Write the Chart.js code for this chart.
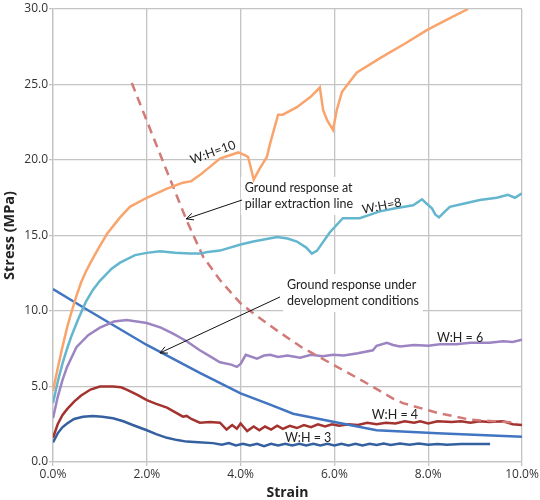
<!DOCTYPE html>
<html>
<head>
<meta charset="utf-8">
<script src="https://cdn.jsdelivr.net/npm/chart.js@4.4.1/dist/chart.umd.min.js"></script>
<style>
  html, body { margin: 0; padding: 0; background: #fff; }
</style>
</head>
<body>
<canvas id="stressChart" width="540" height="500"></canvas>
<script>
// data (strain in %, stress in MPa)

let wh10Strain = [0, 0.1, 0.2, 0.3, 0.4, 0.5, 0.6, 0.7, 0.8, 0.96, 1.15, 1.43, 1.64, 2.0, 2.43, 2.77, 2.95, 3.13, 3.56, 3.95, 4.1, 4.16, 4.28, 4.4, 4.56, 4.63, 4.8, 4.9, 5.2, 5.5, 5.69, 5.76, 5.85, 5.97, 6.05, 6.16, 6.33, 6.48, 7.0, 7.5, 7.97, 8.4, 8.85];
let wh10Stress = [4.7, 6.2, 7.6, 8.9, 10.0, 11.0, 11.9, 12.6, 13.2, 14.1, 15.1, 16.2, 16.9, 17.5, 18.1, 18.5, 18.6, 19.0, 20.1, 20.5, 20.3, 20.2, 18.7, 19.4, 20.2, 21.1, 23.0, 23.0, 23.5, 24.2, 24.8, 23.3, 22.6, 22.0, 23.3, 24.5, 25.2, 25.8, 26.8, 27.7, 28.6, 29.3, 30.0];

let wh8Strain = [0, 0.1, 0.2, 0.3, 0.4, 0.53, 0.7, 0.85, 1.0, 1.25, 1.43, 1.75, 2.0, 2.28, 2.6, 2.92, 3.13, 3.3, 3.56, 4.0, 4.27, 4.78, 5.0, 5.2, 5.4, 5.52, 5.63, 5.9, 6.18, 6.54, 6.97, 7.3, 7.68, 7.87, 7.97, 8.08, 8.15, 8.23, 8.36, 8.46, 8.75, 9.1, 9.46, 9.7, 9.85, 10.0];
let wh8Stress = [3.9, 5.3, 6.5, 7.5, 8.4, 9.4, 10.6, 11.4, 12.0, 12.8, 13.2, 13.7, 13.85, 13.95, 13.85, 13.8, 13.8, 13.9, 14.0, 14.4, 14.6, 14.9, 14.8, 14.6, 14.2, 13.8, 14.0, 15.2, 16.15, 16.15, 16.6, 16.8, 17.0, 17.4, 17.1, 16.8, 16.4, 16.2, 16.6, 16.9, 17.1, 17.35, 17.5, 17.7, 17.5, 17.8];

let wh6Strain = [0, 0.1, 0.2, 0.3, 0.5, 0.75, 1.0, 1.3, 1.57, 2.0, 2.3, 2.56, 2.85, 3.13, 3.35, 3.56, 3.8, 3.92, 4.0, 4.11, 4.2, 4.35, 4.5, 4.63, 4.8, 5.0, 5.27, 5.5, 5.75, 5.97, 6.2, 6.5, 6.82, 6.9, 7.12, 7.25, 7.4, 7.7, 8.0, 8.25, 8.6, 8.9, 9.3, 9.6, 9.8, 10.0];
let wh6Stress = [2.9, 4.3, 5.4, 6.3, 7.6, 8.4, 8.9, 9.3, 9.4, 9.2, 8.9, 8.5, 8.0, 7.4, 7.0, 6.6, 6.45, 6.3, 6.5, 7.1, 7.0, 6.85, 7.05, 7.1, 6.95, 7.05, 6.9, 7.1, 7.0, 7.1, 7.05, 7.2, 7.4, 7.7, 7.9, 7.75, 7.65, 7.75, 7.7, 7.8, 7.8, 7.9, 7.9, 8.0, 7.95, 8.1];

let wh4Strain = [0, 0.1, 0.2, 0.3, 0.45, 0.6, 0.8, 1.0, 1.28, 1.45, 1.57, 1.8, 2.0, 2.2, 2.43, 2.6, 2.77, 2.85, 2.95, 3.13, 3.35, 3.56, 3.7, 3.82, 3.92, 4.0, 4.14, 4.28, 4.4, 4.52, 4.65, 4.78, 4.9, 5.05, 5.2, 5.35, 5.5, 5.65, 5.8, 5.95, 6.1, 6.3, 6.5, 6.7, 6.9, 7.1, 7.3, 7.5, 7.7, 7.83, 8.0, 8.2, 8.5, 8.7, 8.9, 9.1, 9.3, 9.6, 9.8, 10.0];
let wh4Stress = [1.6, 2.5, 3.1, 3.5, 4.0, 4.4, 4.8, 5.0, 5.0, 4.95, 4.8, 4.45, 4.1, 3.85, 3.6, 3.3, 3.0, 3.05, 2.85, 2.6, 2.65, 2.6, 2.15, 2.45, 2.2, 2.55, 2.05, 2.35, 2.1, 2.35, 2.15, 2.4, 2.2, 2.4, 2.25, 2.45, 2.3, 2.5, 2.35, 2.5, 2.4, 2.5, 2.45, 2.6, 2.5, 2.6, 2.55, 2.7, 2.6, 2.7, 2.55, 2.7, 2.65, 2.7, 2.6, 2.7, 2.65, 2.7, 2.5, 2.45];

let wh3Strain = [0, 0.1, 0.2, 0.3, 0.45, 0.64, 0.85, 1.05, 1.28, 1.5, 1.7, 2.0, 2.2, 2.43, 2.65, 2.85, 3.1, 3.41, 3.6, 3.75, 3.9, 4.05, 4.2, 4.35, 4.5, 4.65, 4.8, 4.95, 5.1, 5.25, 5.4, 5.55, 5.7, 5.85, 6.0, 6.15, 6.3, 6.45, 6.6, 6.75, 6.9, 7.05, 7.2, 7.4, 7.6, 7.8, 8.0, 8.2, 8.4, 8.7, 9.0, 9.32];
let wh3Stress = [1.3, 1.9, 2.3, 2.55, 2.85, 3.0, 3.05, 3.0, 2.9, 2.7, 2.45, 2.1, 1.85, 1.6, 1.45, 1.35, 1.3, 1.25, 1.15, 1.25, 1.1, 1.2, 1.1, 1.2, 1.05, 1.2, 1.1, 1.2, 1.1, 1.2, 1.1, 1.2, 1.1, 1.2, 1.1, 1.2, 1.1, 1.2, 1.1, 1.2, 1.12, 1.22, 1.12, 1.22, 1.15, 1.22, 1.15, 1.2, 1.15, 1.2, 1.2, 1.2];

let devStrain = [0, 0.72, 2.0, 3.13, 4.0, 4.63, 5.12, 6.0, 6.9, 8.2, 10.0];
let devStress = [11.45, 10.1, 7.75, 5.9, 4.55, 3.8, 3.2, 2.65, 2.1, 1.9, 1.67];

let pillarStrain = [1.68, 2.14, 2.5, 2.85, 3.2, 3.56, 4.0, 4.27, 4.78, 5.3, 6.0, 6.7, 7.25, 7.46, 8.2, 8.9, 9.9];
let pillarStress = [25.1, 21.5, 18.7, 16.0, 13.6, 12.05, 10.5, 9.85, 8.7, 7.6, 6.4, 5.2, 4.2, 3.9, 3.25, 2.8, 2.6];

let xTicks = [0, 2, 4, 6, 8, 10];
let yTicks = [0, 5, 10, 15, 20, 25, 30];

function toPoints(xs, ys) {
    return xs.map((x, i) => ({x: x, y: ys[i]}));
}

function line(label, xs, ys, color, dash) {
    return {
        label: label,
        data: toPoints(xs, ys),
        borderColor: color,
        borderWidth: 2.5,
        borderDash: dash || [],
        pointRadius: 0,
        tension: 0,
        fill: false
    };
}

// annotation texts, in data coordinates
let boxes = [
    {lines: ["Ground response at", "pillar extraction line"], x: 4.09, y: 18.15},
    {lines: ["Ground response under", "development conditions"], x: 4.99, y: 11.72}
];
let labels = [
    {text: "W:H=10", x: 3.41, y: 20.5, rot: -20},
    {text: "W:H=8", x: 7.01, y: 16.95, rot: -11},
    {text: "W:H = 6", x: 8.68, y: 8.2, rot: 0},
    {text: "W:H = 4", x: 7.29, y: 3.1, rot: 0},
    {text: "W:H = 3", x: 5.44, y: 1.6, rot: 0}
];
let arrows = [
    {x1: 4.03, y1: 17.35, x2: 2.84, y2: 16.1},
    {x1: 4.84, y1: 10.93, x2: 2.28, y2: 7.22}
];

let textFont = "12.5px Lato";

let notes = {
    id: "notes",
    beforeDatasetsDraw(chart) {
        let ctx = chart.ctx;
        let xs = chart.scales.x, ys = chart.scales.y;
        ctx.save();
        ctx.font = textFont;
        boxes.forEach(b => {
            let px = xs.getPixelForValue(b.x);
            let py = ys.getPixelForValue(b.y);
            let w = Math.max(...b.lines.map(t => ctx.measureText(t).width));
            ctx.fillStyle = "#fff";
            ctx.fillRect(px - 4, py - 11, w + 8, 16 * b.lines.length + 6);
        });
        ctx.restore();
    },
    afterDatasetsDraw(chart) {
        let ctx = chart.ctx;
        let xs = chart.scales.x, ys = chart.scales.y;
        ctx.save();
        ctx.font = textFont;
        ctx.fillStyle = "#222";
        ctx.textBaseline = "middle";
        ctx.textAlign = "left";
        boxes.forEach(b => {
            let px = xs.getPixelForValue(b.x);
            let py = ys.getPixelForValue(b.y);
            b.lines.forEach((t, i) => ctx.fillText(t, px, py + i * 16));
        });
        ctx.textAlign = "center";
        labels.forEach(l => {
            ctx.save();
            ctx.translate(xs.getPixelForValue(l.x), ys.getPixelForValue(l.y));
            ctx.rotate(l.rot * Math.PI / 180);
            ctx.fillText(l.text, 0, 0);
            ctx.restore();
        });
        // arrows with open heads
        ctx.strokeStyle = "#111";
        ctx.lineWidth = 1;
        arrows.forEach(a => {
            let x1 = xs.getPixelForValue(a.x1), y1 = ys.getPixelForValue(a.y1);
            let x2 = xs.getPixelForValue(a.x2), y2 = ys.getPixelForValue(a.y2);
            let ang = Math.atan2(y2 - y1, x2 - x1);
            ctx.beginPath();
            ctx.moveTo(x1, y1);
            ctx.lineTo(x2, y2);
            ctx.moveTo(x2 - 8 * Math.cos(ang - 0.45), y2 - 8 * Math.sin(ang - 0.45));
            ctx.lineTo(x2, y2);
            ctx.lineTo(x2 - 8 * Math.cos(ang + 0.45), y2 - 8 * Math.sin(ang + 0.45));
            ctx.stroke();
        });
        ctx.restore();
    }
};

let gridColor = "#c4c4c4";

new Chart(document.getElementById("stressChart"), {
    type: "line",
    data: {
        datasets: [
            line("W:H=10", wh10Strain, wh10Stress, "#f9a46c"),
            line("W:H=8", wh8Strain, wh8Stress, "#64b6cf"),
            line("Pillar extraction line", pillarStrain, pillarStress, "#d27a77", [9, 6]),
            line("W:H=6", wh6Strain, wh6Stress, "#9c84c2"),
            line("Development conditions", devStrain, devStress, "#4275c1"),
            line("W:H=4", wh4Strain, wh4Stress, "#a3332f"),
            line("W:H=3", wh3Strain, wh3Stress, "#35609f")
        ]
    },
    options: {
        responsive: false,
        animation: false,
        layout: {padding: {top: 9, right: 18, left: 0, bottom: 0}},
        plugins: {
            legend: {display: false},
            tooltip: {enabled: false}
        },
        scales: {
            x: {
                type: "linear",
                min: 0,
                max: 10,
                afterBuildTicks: s => { s.ticks = xTicks.map(v => ({value: v})); },
                afterFit: s => { s.height = 38; },
                ticks: {
                    color: "#333",
                    font: {family: "Open Sans", size: 12},
                    padding: 1,
                    maxRotation: 0,
                    callback: v => v.toFixed(1) + "%"
                },
                grid: {color: gridColor, lineWidth: 1.3, tickLength: 4},
                border: {color: gridColor, width: 1.3},
                title: {
                    display: true,
                    text: "Strain",
                    color: "#222",
                    font: {family: "Open Sans", size: 14, weight: "bold"},
                    padding: {top: 0, bottom: -1}
                }
            },
            y: {
                min: 0,
                max: 30,
                afterBuildTicks: s => { s.ticks = yTicks.map(v => ({value: v})); },
                afterFit: s => { s.width = 53; },
                ticks: {
                    color: "#333",
                    font: {family: "Open Sans", size: 12},
                    padding: 1,
                    callback: v => v.toFixed(1)
                },
                grid: {color: gridColor, lineWidth: 1.3, tickLength: 4},
                border: {color: gridColor, width: 1.3},
                title: {
                    display: true,
                    text: "Stress (MPa)",
                    color: "#222",
                    font: {family: "Open Sans", size: 14.5, weight: "bold"},
                    padding: {top: 1, bottom: 0}
                }
            }
        }
    },
    plugins: [notes]
});
</script>
</body>
</html>
